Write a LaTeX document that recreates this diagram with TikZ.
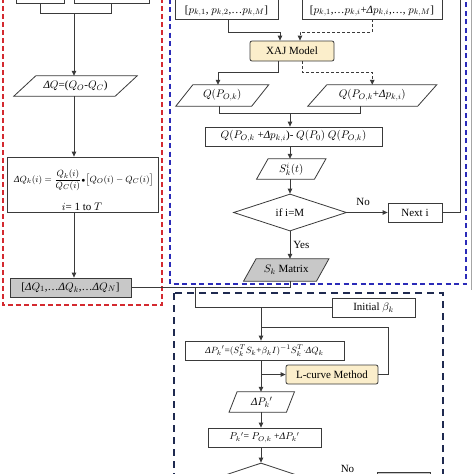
\documentclass[tikz,border=0pt]{standalone}
\usepackage{fontspec}
\setmainfont{Liberation Serif}
\usetikzlibrary{arrows.meta,shapes.geometric,calc}
\pgfdeclarelayer{bg}
\pgfdeclarelayer{bgbg}
\pgfsetlayers{bgbg,bg,main}
\definecolor{rdash}{HTML}{D42A30}
\definecolor{bdash}{HTML}{2B2BB8}
\definecolor{ndash}{HTML}{1F2A50}
\definecolor{edgec}{HTML}{3A3A3A}
\definecolor{yel}{HTML}{FBEECB}
\definecolor{gfill}{HTML}{C8C8C8}
\newcommand\Dl{\mbox{\itshape Δ}}
\newcommand\parashape[3]{%
  \begin{pgfonlayer}{bg}
  \draw[draw=edgec,line width=0.8pt,fill=#3] ([xshift=-#2pt]#1.south west) -- ([xshift=-#2pt]#1.south east) -- ([xshift=#2pt]#1.north east) -- ([xshift=#2pt]#1.north west) -- cycle;
  \end{pgfonlayer}}
\begin{document}
\begin{tikzpicture}[x=1pt,y=-1pt,
  txt/.style={inner sep=0pt, font=\fontsize{11}{12}\selectfont},
  small/.style={font=\fontsize{9.8}{11}\selectfont},
  box/.style={txt, draw=edgec, line width=0.8pt, fill=white, align=center},
  ybox/.style={box, fill=yel, rounded corners=2pt},
  gbox/.style={box, fill=gfill},
  para/.style={txt, draw=none, align=center},
  dia/.style={txt, diamond, aspect=3, draw=edgec, line width=0.8pt, fill=white},
  ln/.style={draw=edgec, line width=0.8pt},
  arr/.style={ln, -{Triangle[length=5pt,width=4.5pt]}},
  dsh/.style={dash pattern=on 3pt off 2pt},
  lbl/.style={txt},
  rframe/.style={draw=rdash, line width=1.6pt, dash pattern=on 5pt off 3pt},
  bframe/.style={draw=bdash, line width=1.5pt, dash pattern=on 5pt off 3.5pt},
  nframe/.style={draw=ndash, line width=1.5pt, dash pattern=on 7pt off 5pt}]
\useasboundingbox (0,0) rectangle (474,474);
\clip (0,0) rectangle (474,474);

% frames
\begin{pgfonlayer}{bgbg}
\fill[white] (0,0) rectangle (474,474);
\draw[rframe] (3,-10) rectangle (162,305);
\draw[bframe] (170,-10) rectangle (466,284);
\draw[nframe] (174,293) rectangle (443,490);
\draw[gray!70, line width=1pt] (471.5,-5) -- (471.5,290);
\end{pgfonlayer}

% left column
\node[box, minimum width=48pt, minimum height=23pt] (bA) at (40,-8.5) {};
\node[box, minimum width=75pt, minimum height=23pt] (bB) at (111.5,-8.5) {};
\node[para, minimum width=101pt, minimum height=20pt] (dq) at (75.5,86) {\Dl$Q$=($Q_O$-$Q_C$)};
\parashape{dq}{11}{white}
\node[box, minimum width=151pt, minimum height=55pt] (form) at (82.5,184.5) {};
\node[txt, font=\fontsize{9.3}{11}\selectfont] (formt) at (84,180) {$\Dl Q_k(i)=\displaystyle\frac{Q_k(i)}{Q_C(i)}{\scriptstyle\bullet}\bigl[Q_O(i)-Q_C(i)\bigr]$};
\node[txt] (formi) at (82,206.5) {$i$= 1 to $T$};
\node[gbox, minimum width=121pt, minimum height=19pt] (gq) at (70.5,287.5) {[\Dl$Q_1$,\ldots\Dl$Q_k$,\ldots\Dl$Q_N$]};

% upper right
\node[box, minimum width=103pt, minimum height=34pt] (b1) at (226.5,2) {};
\node[txt] (b1t) at (226.5,11) {[$p_{k,1}$, $p_{k,2}$,\ldots$p_{k,M}$]};
\node[box, minimum width=140pt, minimum height=34pt] (b2) at (372,2) {};
\node[txt] (b2t) at (372,11) {[$p_{k,1}$,\ldots$p_{k,i}$+\Dl$p_{k,i}$,\ldots, $p_{k,M}$]};
\node[ybox, minimum width=84pt, minimum height=20pt] (xaj) at (292,51) {XAJ Model};
\node[para, minimum width=75.5pt, minimum height=21pt] (qpo) at (222.25,95.5) {$Q(P_{O,k})$};
\parashape{qpo}{8.5}{white}
\node[para, minimum width=109.5pt, minimum height=21pt] (qpd) at (372.25,95.5) {$Q(P_{O,k}$+\Dl$p_{k,i})$};
\parashape{qpd}{9.5}{white}
\node[box, minimum width=177pt, minimum height=19pt] (diff) at (293.5,136.5) {$Q(P_{O,k}$ +\Dl$p_{k,i}$)- $Q(P_0)$ $Q(P_{O,k})$};
\node[para, minimum width=57.5pt, minimum height=20pt] (ski) at (291.25,169) {$S_k^{i}(t)$};
\parashape{ski}{5.75}{white}
\node[dia, minimum width=113pt, minimum height=37pt] (dia1) at (290,212.5) {if i=M};
\node[box, minimum width=54pt, minimum height=19pt] (nexti) at (415,212.5) {Next i};
\node[para, minimum width=72.5pt, minimum height=22pt] (skm) at (286.25,270) {$S_k$ Matrix};
\parashape{skm}{6.25}{gfill}

% lower section
\node[box, minimum width=83pt, minimum height=19pt] (ib) at (373.5,307.5) {Initial $\beta_k$};
\node[box, small, font=\fontsize{9.3}{11}\selectfont, minimum width=159pt, minimum height=19pt] (dp) at (264.5,350.5) {\Dl$P_k{}'$=$(S_k^{T}S_k$+$\beta_k I)^{-1}S_k^{T}{\cdot}$\Dl$Q_k$};
\node[ybox, minimum width=92pt, minimum height=19pt] (lc) at (332,374.5) {L-curve Method};
\node[para, minimum width=57pt, minimum height=20pt] (dpp) at (261.75,402) {\Dl$P_k{}'$};
\parashape{dpp}{4}{white}
\node[box, small, minimum width=113pt, minimum height=19pt] (pk) at (264.5,437.5) {$P_k{}'$= $P_{O,k}$ +\Dl$P_k{}'$};
\node[dia, minimum width=114pt, minimum height=38pt] (dia2) at (261,482) {};
\node[gbox, minimum width=53pt, minimum height=20pt] (gb) at (403.5,482) {};

% coordinates
\coordinate (jtop) at (74,13);
\coordinate (mx) at (290,0);
\coordinate (jq) at (290,113);
\coordinate (jb) at (195,307.5);
\coordinate (lx) at (261,0);
\coordinate (jl) at (261,327);

% connectors left
\draw[ln] (bA.south) -- (bA.south |- jtop) -- (bB.south |- jtop) -- (bB.south);
\draw[arr] (jtop) -- (dq.north -| jtop);
\draw[arr] (dq.south -| jtop) -- (form.north -| jtop);
\draw[arr] (form.south -| jtop) -- (gq.north -| jtop);
\draw[ln] (gq.east) -- (gq.east -| mx) -- (skm.south -| mx);

% connectors upper right
\draw[arr] ([xshift=1.5pt]b1.south) -- ++(0,13) -| ([xshift=-12pt]xaj.north);
\draw[arr,dsh] (b2.south) -- ++(0,13) -| ([xshift=8pt]xaj.north);
\draw[arr] ([xshift=-14pt]xaj.south) -- ++(0,11) -| ([xshift=-4.25pt]qpo.north);
\draw[arr,dsh] ([xshift=10pt]xaj.south) -- ++(0,11) -| (qpd.north);
\draw[ln] ([xshift=-3pt]qpo.south) -- ++(0,7) -| ([xshift=-12pt]qpd.south);
\draw[arr] (jq) -- (diff.north -| jq);
\draw[arr] (diff.south -| mx) -- (ski.north -| mx);
\draw[arr] (ski.south -| mx) -- (dia1.north);
\draw[arr] (dia1.east) -- (nexti.west) node[lbl, pos=0.4, yshift=11pt] (no1) {No};
\draw[ln] (nexti.east) -- ++(18,0) -- ++(0,-240);
\draw[arr] (dia1.south) -- (skm.north -| mx) node[lbl, midway, right=3pt] (yes1) {Yes};

% connectors lower
\draw[ln] (gq.east -| jb) -- (jb) -- (ib.west);
\draw[arr] (jb -| lx) -- (dp.north -| lx);
\draw[ln] (lc.east) -- ++(10,0) |- (jl);
\draw[arr] (lx |- lc.west) -- (lc.west);
\draw[arr] (dp.south -| lx) -- (dpp.north -| lx);
\draw[arr] (dpp.south -| lx) -- (pk.north -| lx);
\draw[arr] (pk.south -| lx) -- (dia2.north);
\draw[arr] (dia2.east) -- (gb.west) node[lbl, midway, yshift=13pt] (no2) {No};
\end{tikzpicture}
\end{document}
